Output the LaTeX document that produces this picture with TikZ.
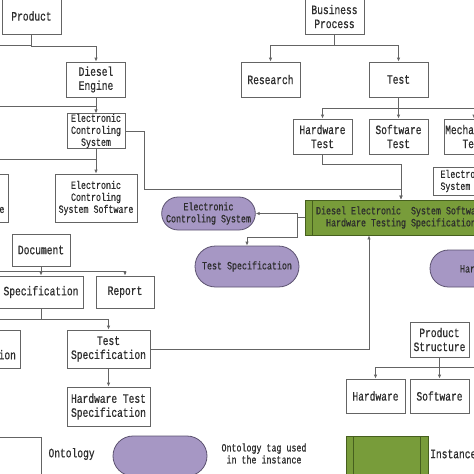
\documentclass[tikz,border=0pt]{standalone}
\usepackage{fontspec}
\setmainfont[FakeStretch=0.75,FakeBold=0.6]{Liberation Mono}
\usetikzlibrary{arrows.meta,calc,shapes.misc,positioning}
\definecolor{boxline}{RGB}{100,100,100}
\definecolor{inktext}{RGB}{45,45,45}
\definecolor{tagfill}{RGB}{166,151,196}
\definecolor{tagline}{RGB}{92,82,112}
\definecolor{instfill}{RGB}{120,156,58}
\definecolor{instline}{RGB}{70,95,30}
\newcommand{\bigtxt}{\fontsize{12.8}{14}\selectfont}
\newcommand{\smalltxt}{\fontsize{11.1}{12}\selectfont}

\begin{document}
\begin{tikzpicture}[x=1pt,y=-1pt]
    \tikzset{OntoStyle/.style = {draw=boxline, line width=0.8pt,
        fill  = white,
        text  = inktext,
        inner sep=0pt, align=center, font=\bigtxt},
      SmallText/.style = {font=\smalltxt},
      NarrowBox/.style = {minimum width=59pt, minimum height=35pt},
      WideBox/.style = {minimum width=83pt, minimum height=38pt},
      TagStyle/.style = {rounded rectangle, draw=tagline, line width=0.8pt,
        fill=tagfill, text=inktext, inner sep=0pt, align=center, font=\smalltxt},
      InstStyle/.style = {draw=instline, line width=0.8pt, fill=instfill,
        text=inktext, inner sep=0pt, align=center, font=\smalltxt,
        path picture={
          \draw[instline, line width=0.8pt]
            ([xshift=7.5pt]path picture bounding box.south west) --
            ([xshift=7.5pt]path picture bounding box.north west);
          \draw[instline, line width=0.8pt]
            ([xshift=-7.5pt]path picture bounding box.south east) --
            ([xshift=-7.5pt]path picture bounding box.north east);}},
      EdgeStyle/.style = {draw=boxline, line width=0.8pt,
        -{Latex[length=4pt,width=3.5pt]}},
      LineStyle/.style = {draw=boxline, line width=0.8pt}}
    \useasboundingbox (0,0) rectangle (474,474);
    \clip (0,0) rectangle (474,474);
    % product side
    \node[OntoStyle, minimum width=59pt, minimum height=37pt] (Product) at (31.5,16) {Product};
    \node[OntoStyle, NarrowBox] (Diesel) at (96,79.5) {Diesel\\Engine};
    \node[OntoStyle, SmallText, minimum width=58pt, minimum height=34pt] (ECS) at (96,131) {Electronic\\Controling\\System};
    \node[OntoStyle, SmallText, minimum width=82pt, minimum height=48pt] (ECSH) at (-33,198) {Electronic\\Controling\\System Hardware};
    \node[OntoStyle, SmallText, minimum width=82pt, minimum height=48pt] (ECSS) at (96,198) {Electronic\\Controling\\System Software};
    % business process side
    \node[OntoStyle, NarrowBox] (BusProc) at (334.5,16.5) {Business\\Process};
    \node[OntoStyle, NarrowBox] (Research) at (270.5,79.5) {Research};
    \node[OntoStyle, NarrowBox] (Test) at (398.5,79.5) {Test};
    \node[OntoStyle, NarrowBox] (HwTest) at (322.5,136.5) {Hardware\\Test};
    \node[OntoStyle, NarrowBox] (SwTest) at (398.5,136.5) {Software\\Test};
    \node[OntoStyle, NarrowBox] (MechTest) at (474,136.5) {Mechanical\\Test};
    \node[OntoStyle, SmallText, anchor=west, align=left, inner xsep=7pt, minimum height=28pt] (ElecSys) at (433,181) {Electronic\\System};
    % instance and tags
    \node[InstStyle, minimum width=192pt, minimum height=35pt] (Inst) at (401,217.5) {Diesel Electronic\ \ System Software\\Hardware Testing Specification};
    \node[TagStyle, minimum width=93pt, minimum height=33pt] (TagECS) at (208.5,213.5) {Electronic\\Controling System};
    \node[TagStyle, minimum width=104pt, minimum height=41pt] (TagTS) at (247,266.5) {Test Specification};
    \node[TagStyle, minimum width=100pt, minimum height=37pt] (TagHW) at (480,268.5) {Hardware};
    % documents
    \node[OntoStyle, minimum width=58pt, minimum height=32pt] (Document) at (41,250) {Document};
    \node[OntoStyle, minimum width=84pt, minimum height=32pt] (Spec) at (41,292) {Specification};
    \node[OntoStyle, minimum width=58pt, minimum height=32pt] (Report) at (125,292) {Report};
    \node[OntoStyle, WideBox] (DesignSpec) at (-21.5,349) {Design\\Specification};
    \node[OntoStyle, WideBox] (TestSpec) at (108.5,349) {Test\\Specification};
    \node[OntoStyle, minimum width=83pt, minimum height=39pt] (HwTestSpec) at (108.5,406.5) {Hardware Test\\Specification};
    % product structure
    \node[OntoStyle, NarrowBox] (ProdStruct) at (439.5,339.5) {Product\\Structure};
    \node[OntoStyle, minimum width=59pt, minimum height=34pt] (Hardware) at (375.5,396) {Hardware};
    \node[OntoStyle, minimum width=59pt, minimum height=34pt] (Software) at (439.5,396) {Software};
    % legend
    \node[OntoStyle, minimum width=59pt, minimum height=40pt] (LegOnto) at (11.5,457) {};
    \node[text=inktext, font=\bigtxt, anchor=west] (LegOntoTxt) at (45,454) {Ontology};
    \node[TagStyle, minimum width=94pt, minimum height=40pt] (LegTag) at (160,456) {};
    \node[text=inktext, font=\smalltxt, align=center] (LegTagTxt) at (264,453.5) {Ontology tag used\\in the instance};
    \node[InstStyle, minimum width=82pt, minimum height=40pt] (LegInst) at (387,456) {};
    \node[text=inktext, font=\bigtxt, anchor=west, inner xsep=0pt] (LegInstTxt) at (430,454) {Instance};

    % edges
    \coordinate (L1) at (-2,45);
    \coordinate (L2) at (-2,106);
    \coordinate (L3) at (-2,159);
    \coordinate (L4) at (-2,271);
    \coordinate (L5) at (-2,319);
    \coordinate (R1) at (478,367);
    \draw[EdgeStyle] (Product.south) -- ++(0,11) -| (Diesel.north);
    \draw[LineStyle] (L1) -- (Product.south |- L1);
    \draw[EdgeStyle] (Diesel) -- (ECS);
    \draw[LineStyle] (L2) -- (Diesel.south |- L2);
    \draw[EdgeStyle] (ECS) -- (ECSS);
    \draw[LineStyle] (L3) -- (ECS.south |- L3);
    \draw[EdgeStyle] (ECS.east) -- ++(19,0) |- ($(Inst.north)+(0,-10)$) -- (Inst.north);
    \draw[EdgeStyle] (HwTest.south) |- ($(Inst.north)+(0,-35)$) -- (Inst.north);
    \draw[EdgeStyle] (BusProc.south) -- ++(0,11) -| (Research.north);
    \draw[EdgeStyle] (BusProc.south) -- ++(0,11) -| (Test.north);
    \draw[EdgeStyle] (Test.south) -- ++(0,11) -| (HwTest.north);
    \draw[EdgeStyle] (Test) -- (SwTest);
    \draw[EdgeStyle] (Test.south) -- ++(0,11) -| (MechTest.north);
    \draw[EdgeStyle] (Inst.west) -- ++(-7,0) |- (TagECS.east);
    \draw[EdgeStyle] (Inst.west) -- ++(-7,0) |- ($(TagTS.north)+(0,-8)$) -- (TagTS.north);
    \draw[EdgeStyle] (TestSpec.east) -| ([xshift=-32pt]Inst.south);
    \draw[EdgeStyle] (Document) -- (Spec);
    \draw[EdgeStyle] (Document.south) -- ++(0,5) -| (Report.north);
    \draw[LineStyle] (L4) -- (Document.south |- L4);
    \draw[EdgeStyle] (Spec.south) -- ++(0,11) -| (TestSpec.north);
    \draw[LineStyle] (L5) -- (Spec.south |- L5);
    \draw[EdgeStyle] (TestSpec) -- (HwTestSpec);
    \draw[EdgeStyle] (ProdStruct) -- (Software);
    \draw[EdgeStyle] (ProdStruct.south) -- ++(0,10) -| (Hardware.north);
    \draw[LineStyle] (ProdStruct.south |- R1) -- (R1);
  \end{tikzpicture}
\end{document}
